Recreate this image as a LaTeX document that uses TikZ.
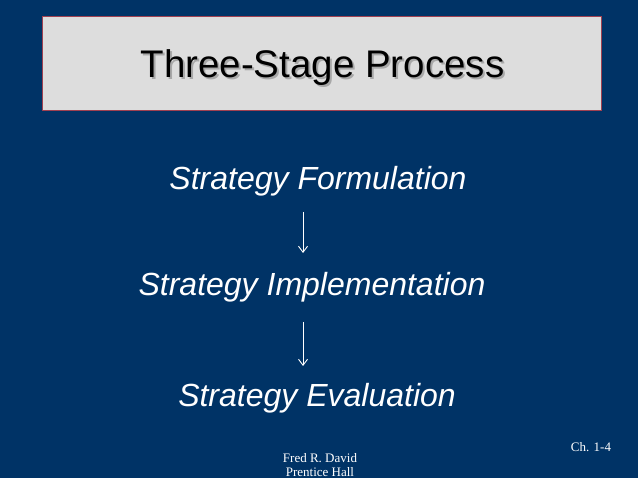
\documentclass[tikz,border=0pt]{standalone}
\usepackage{fontspec}
\setmainfont{Liberation Serif}
\setsansfont{Liberation Sans}
\usetikzlibrary{arrows.meta}
\definecolor{navy}{HTML}{003366}
\definecolor{boxgray}{HTML}{DDDDDD}
\definecolor{boxline}{HTML}{A04050}
\definecolor{shade}{HTML}{A8A8A8}
\tikzset{
  stage/.style={font=\sffamily\itshape\fontsize{32}{36}\selectfont, text=white, inner sep=0pt},
  flow/.style={draw=white, line width=0.9pt, -{Straight Barb[length=6pt,width=9pt,line width=0.9pt]}},
  foot/.style={font=\rmfamily\fontsize{13}{14.5}\selectfont, text=white, inner sep=0pt, align=center}
}
\begin{document}
\begin{tikzpicture}[x=1pt,y=-1pt]
\fill[navy] (0,0) rectangle (638,478);
\useasboundingbox (0,0) rectangle (638,478);
\node[draw=boxline, fill=boxgray, line width=0.8pt, minimum width=559pt, minimum height=94pt, inner sep=0pt] (titlebox) at (321.5,63) {};
\node[font=\sffamily\fontsize{38.5}{42}\selectfont, text=black, inner sep=0pt] (title) at (322.5,68.5)
  {\rlap{\hspace{2pt}\raisebox{-2pt}{\textcolor{shade}{Three-Stage Process}}}Three-Stage Process};
\node[stage] (form) at (318,181) {Strategy Formulation};
\node[stage] (impl) at (312,287) {Strategy Implementation};
\node[stage] (eval) at (317,398) {Strategy Evaluation};
\coordinate (a1s) at (303,212);
\coordinate (a1e) at (303,253);
\coordinate (a2s) at (303,322);
\coordinate (a2e) at (303,366);
\draw[flow] (a1s) -- (a1e);
\draw[flow] (a2s) -- (a2e);
\node[foot] (author) at (320,465) {Fred R. David\\Prentice Hall};
\node[foot] (chap) at (591,447) {Ch. 1-4};
\end{tikzpicture}
\end{document}
